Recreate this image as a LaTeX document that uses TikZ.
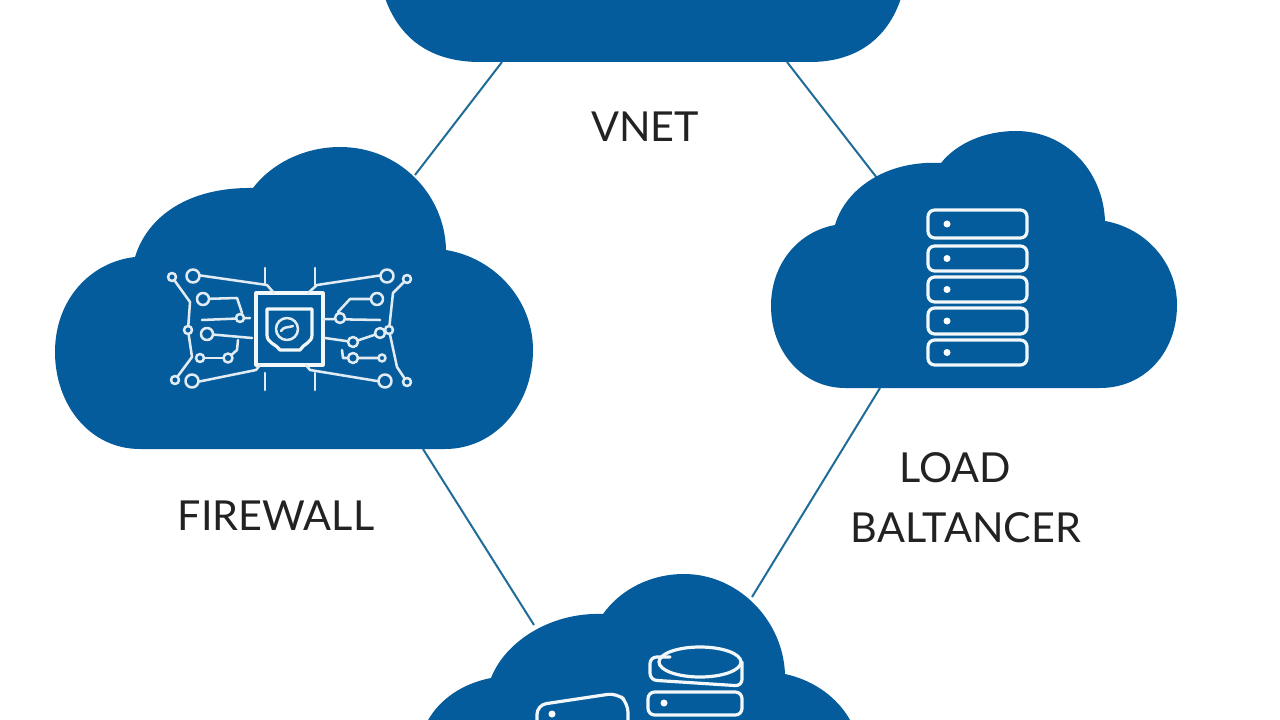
\documentclass[tikz,border=0pt]{standalone}
\usepackage{fontspec}
\setmainfont{Lato}
\usepackage{tikz}

\definecolor{cloudblue}{HTML}{045C9C}
\definecolor{linkblue}{HTML}{1F6C99}
\definecolor{labelgrey}{HTML}{222222}

\tikzset{
  cloud fill/.style={fill=cloudblue,draw=none},
  link/.style={draw=linkblue,line width=1.5pt},
  label/.style={text=labelgrey,font=\fontsize{31}{40}\selectfont,inner sep=0pt,align=center},
  icon/.style={draw=white!95!cloudblue,line width=2.4pt,line join=round,line cap=round,fill=none},
  thin icon/.style={draw=white!88!cloudblue,line width=1.9pt,line join=round,line cap=round,fill=none},
  pad/.style={thin icon,fill=cloudblue},
}

\begin{document}
\begin{tikzpicture}[x=0.75pt,y=-0.75pt]
\useasboundingbox (0,0) rectangle (1280,720);
\clip (0,0) rectangle (1280,720);
\fill[white] (0,0) rectangle (1280,720);

\coordinate (v0) at (502,62);
\coordinate (v1) at (787,62);
\coordinate (f0) at (415,175);
\coordinate (f1) at (423,449);
\coordinate (l0) at (877,178);
\coordinate (l1) at (880,388);
\coordinate (s0) at (534,625);
\coordinate (s1) at (752,597);
\draw [link] (v0) -- (f0);
\draw [link] (v1) -- (l0);
\draw [link] (f1) -- (s0);
\draw [link] (l1) -- (s1);

% vnet
\fill [cloud fill] (384,-5) .. controls (398,38) and (430,62) .. (480,62)
  -- (810,62) .. controls (860,62) and (890,35) .. (902,-5) -- cycle;

% firewall
\fill [cloud fill] (140,449) .. controls (90,449) and (55,405) .. (55,352)
  .. controls (55,300) and (90,262) .. (135,257)
  .. controls (148,215) and (190,187) .. (253,188)
  .. controls (272,163) and (305,147) .. (340,147)
  .. controls (400,147) and (445,195) .. (446,250)
  .. controls (495,258) and (533,300) .. (533,350)
  .. controls (533,405) and (495,449) .. (445,449) -- cycle;

% load balancer
\fill [cloud fill] (845,388) .. controls (803,388) and (771,352) .. (771,306)
  .. controls (771,265) and (797,232) .. (835,225)
  .. controls (845,190) and (885,160) .. (941,163)
  .. controls (957,143) and (985,131) .. (1016,131)
  .. controls (1065,131) and (1103,170) .. (1105,221)
  .. controls (1145,228) and (1177,262) .. (1177,305)
  .. controls (1177,352) and (1145,388) .. (1100,388) -- cycle;

% storage
\fill [cloud fill] (420,740) .. controls (428,708) and (455,685) .. (491,678)
  .. controls (505,642) and (550,612) .. (603,614)
  .. controls (620,590) and (650,574) .. (684,574)
  .. controls (738,574) and (783,620) .. (785,674)
  .. controls (822,682) and (850,708) .. (858,740) -- cycle;

\node [label] (vnet) at (645,127) {VNET};
\node [label] (firewall) at (276,516) {FIREWALL};
\node [label] (load) at (955,468) {LOAD};
\node [label] (balt) at (966,528) {BALTANCER};

% firewall chip
\draw [icon] (256,293) rectangle (323,365);
\draw [icon] (267,309) -- (312,309) -- (312,335) .. controls (312,343) and (303,344) .. (300,350)
  -- (280,350) .. controls (276,344) and (267,343) .. (267,335) -- cycle;
\draw [thin icon] (287,329) circle (11);
\draw [thin icon] (281,331) .. controls (284,326) and (288,328) .. (293,326);
\draw [thin icon] (265,268) -- (265,285);
\draw [thin icon] (315,268) -- (315,285);
\draw [thin icon] (265,373) -- (265,390);
\draw [thin icon] (315,373) -- (315,390);
\draw [thin icon] (197,275) -- (267,285) -- (274,293);
\draw [thin icon] (383,275) -- (317,285) -- (308,293);
\draw [thin icon] (197,382) -- (256,370) -- (260,365);
\draw [thin icon] (383,382) -- (310,370) -- (306,365);
\draw [thin icon] (172,277) -- (190,302) -- (188,330) -- (192,357) -- (175,380);
\draw [thin icon] (407,279) -- (393,293) -- (389,330) -- (397,367) -- (407,382);
\draw [thin icon] (203,299) -- (237,298) -- (242,313);
\draw [thin icon] (202,320) -- (250,318);
\draw [thin icon] (207,334) -- (252,338);
\draw [thin icon] (238,340) -- (237,350) -- (228,358);
\draw [thin icon] (200,358) -- (228,358);
\draw [thin icon] (377,299) -- (350,299) -- (338,312);
\draw [thin icon] (323,319) -- (380,320);
\draw [thin icon] (325,338) -- (353,342) -- (380,333);
\draw [thin icon] (342,350) -- (343,358) -- (382,358);
\foreach \px/\py/\pr in {172/277/4,193/276/6.5,407/279/4,387/276/6.5,175/380/4,192/381/6.5,407/382/4,385/381/6.5,188/330/4,389/330/4,203/299/6,377/299/6,240/318/4,340/318/5,207/334/6,380/333/5,353/342/5,228/358/4.5,200/358/4,353/358/5,382/358/3.5}
  \draw [pad] (\px,\py) circle (\pr);

% server rack
\foreach \ya/\yb in {210/238,246/271,277/302,308/334,340/365} {
  \draw [icon] (928,\ya) [rounded corners=5pt] rectangle (1027,\yb);
  \fill [white] (947,{(\ya+\yb)/2}) circle (3.5);
}

% disks
\draw [icon,rounded corners=5pt] (742,662) -- (742,686) -- (650,680) -- (650,657) -- (670,657);
\draw [icon] (700,662) ellipse (41 and 15);
\draw [icon] (648,692) [rounded corners=5pt] rectangle (742,715);
\fill [white] (664,703) circle (3.5);
\draw [icon,rounded corners=7pt] (537,730) -- (537,705) -- (617,693) -- (628,703) -- (628,730);
\fill [white] (552,714) circle (3.5);
\end{tikzpicture}
\end{document}
